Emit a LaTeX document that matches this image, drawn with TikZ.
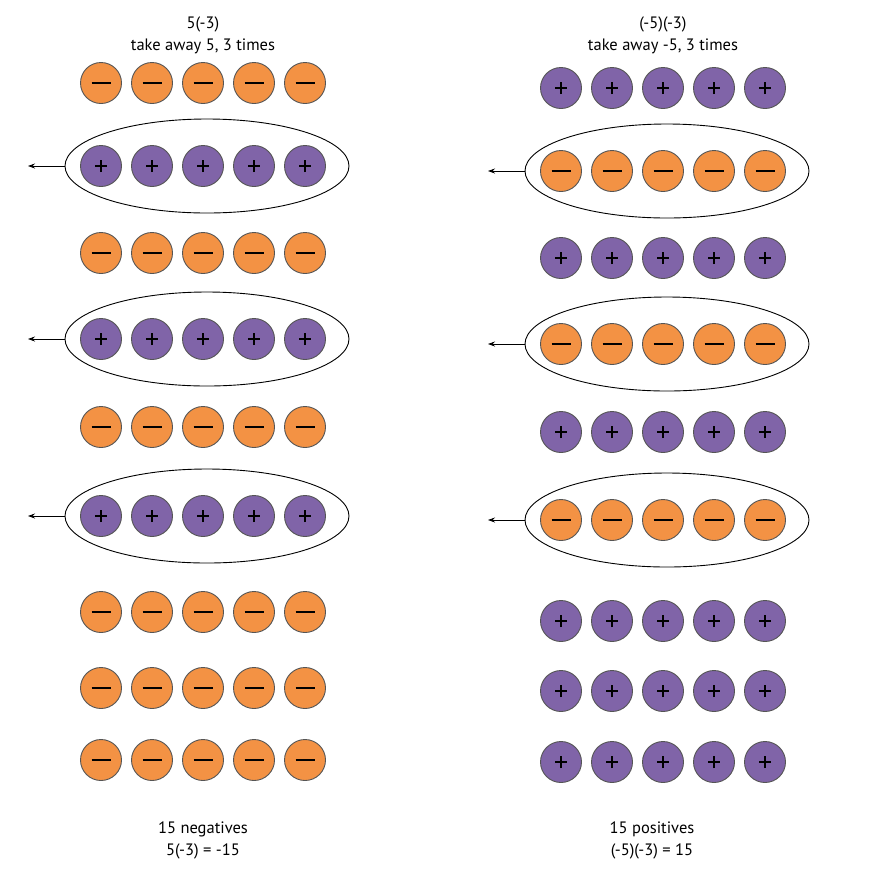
\documentclass[tikz,border=0pt]{standalone}
\usepackage{fontspec}
\setmainfont{PT Sans}
\usetikzlibrary{shapes.geometric,arrows.meta}
\definecolor{negc}{RGB}{243,146,68}
\definecolor{posc}{RGB}{128,100,168}
\definecolor{rimc}{RGB}{85,85,85}
\tikzset{
  chip/.style={circle,draw=rimc,line width=0.9pt,minimum size=41pt,inner sep=0pt},
  negchip/.style={chip,fill=negc,path picture={
      \draw[black,line width=2pt] ([xshift=-9.5pt]path picture bounding box.center) -- ([xshift=9.5pt]path picture bounding box.center);}},
  poschip/.style={chip,fill=posc,path picture={
      \draw[black,line width=1.8pt] ([xshift=-6pt]path picture bounding box.center) -- ([xshift=6pt]path picture bounding box.center);
      \draw[black,line width=1.8pt] ([yshift=-6pt]path picture bounding box.center) -- ([yshift=6pt]path picture bounding box.center);}},
  ring/.style={ellipse,draw,line width=0.9pt,minimum width=284pt,minimum height=94pt,inner sep=0pt},
  lbl/.style={font=\fontsize{16.5}{22}\selectfont,align=center},
  pull/.style={-{Stealth[length=7pt,width=5pt]},line width=0.8pt}
}
\begin{document}
\begin{tikzpicture}[x=1pt,y=-1pt]
\useasboundingbox (0,0) rectangle (893,879);
% titles
\node[lbl] (tl) at (203,35) {5(-3)\\take away 5, 3 times};
\node[lbl] (tr) at (663,35) {(-5)(-3)\\take away -5, 3 times};
\node[lbl] (bl) at (203,840) {15 negatives\\5(-3) = -15};
\node[lbl] (br) at (652,840) {15 positives\\(-5)(-3) = 15};
% left column
\foreach \r/\y/\k in {1/83/negchip,2/166/poschip,3/253/negchip,4/339/poschip,5/427/negchip,6/516/poschip,7/612/negchip,8/688/negchip,9/760/negchip}{
  \foreach \c/\x in {1/101,2/152,3/203,4/254,5/305}{
    \node[\k] (L\r-\c) at (\x,\y) {};
  }
}
% right column
\foreach \r/\y/\k in {1/88/poschip,2/171/negchip,3/258/poschip,4/344/negchip,5/432/poschip,6/520/negchip,7/621/poschip,8/691/poschip,9/762/poschip}{
  \foreach \c/\x in {1/561,2/612,3/663,4/714,5/765}{
    \node[\k] (R\r-\c) at (\x,\y) {};
  }
}
% rings and arrows
\foreach \r/\y in {2/166,4/339,6/516}{
  \node[ring] (LE\r) at (207,\y) {};
  \coordinate (LA\r) at (28,\y);
  \draw[pull] (LE\r.west) -- (LA\r);
}
\foreach \r/\y in {2/171,4/344,6/520}{
  \node[ring] (RE\r) at (667,\y) {};
  \coordinate (RA\r) at (488,\y);
  \draw[pull] (RE\r.west) -- (RA\r);
}
\end{tikzpicture}
\end{document}
